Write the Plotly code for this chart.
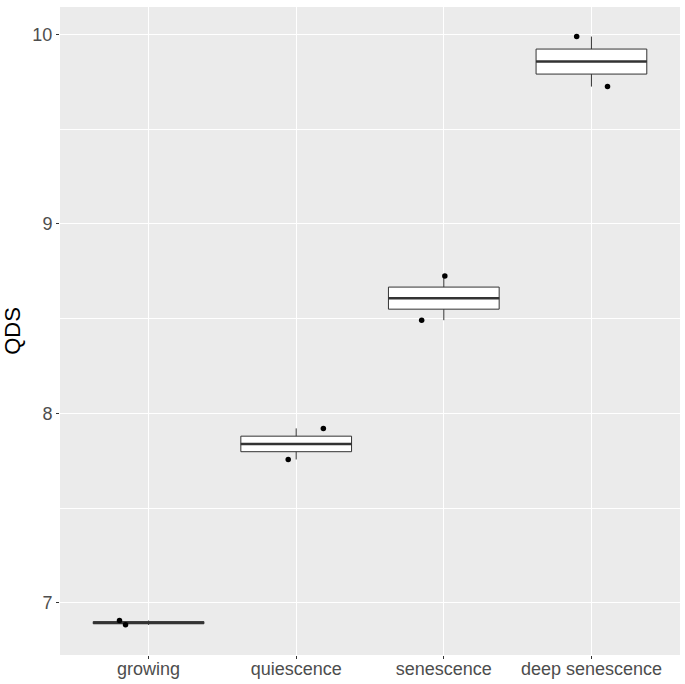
import numpy as np
import plotly.graph_objs as graph_objs

# group labels and the two QDS measurements of each group
categories = ["growing", "quiescence", "senescence", "deep senescence"]
qds_values = [
    [6.907, 6.884],
    [7.921, 7.757],
    [8.725, 8.492],
    [9.989, 9.725],
]
# horizontal jitter of each point (in category units)
jitter_x = [
    [-0.197, -0.156],
    [0.184, -0.054],
    [0.007, -0.150],
    [-0.100, 0.109],
]
y_ticks = [7, 8, 9, 10]
y_minor = [6.5, 7.5, 8.5, 9.5]

fig = graph_objs.Figure()

box_width = 0.75
for i, name in enumerate(categories):
    pos = i + 1
    vals = np.array(qds_values[i])
    q1, med, q3 = np.percentile(vals, [25, 50, 75])
    fig.add_trace(graph_objs.Box(
        x=[pos], q1=[q1], median=[med], q3=[q3],
        lowerfence=[vals.min()], upperfence=[vals.max()],
        width=box_width, whiskerwidth=0,
        fillcolor="white",
        line=dict(color="#333333", width=1),
        boxpoints=False, showlegend=False, hoverinfo="skip",
    ))
    # thicker median line like ggplot
    fig.add_trace(graph_objs.Scatter(
        x=[pos - box_width / 2, pos + box_width / 2], y=[med, med],
        mode="lines", line=dict(color="#333333", width=2.5),
        showlegend=False, hoverinfo="skip",
    ))

for i, name in enumerate(categories):
    pos = i + 1
    fig.add_trace(graph_objs.Scatter(
        x=[pos + j for j in jitter_x[i]], y=qds_values[i],
        mode="markers", marker=dict(color="black", size=5.5),
        showlegend=False,
    ))

fig.update_layout(
    width=685, height=684,
    margin=dict(l=60, r=5, t=7, b=27),
    plot_bgcolor="#EBEBEB", paper_bgcolor="white",
    font=dict(family="Liberation Sans, Arial, sans-serif", color="#4D4D4D"),
    showlegend=False,
)
fig.update_xaxes(
    range=[0.4, 4.6], tickvals=[1, 2, 3, 4], ticktext=categories,
    showgrid=True, gridcolor="white", gridwidth=1.4, zeroline=False,
    ticks="outside", ticklen=3, tickcolor="#333333",
    tickfont=dict(size=18, color="#4D4D4D"), ticklabelstandoff=-6,
)
fig.update_yaxes(
    range=[6.725, 10.145], tickvals=y_ticks,
    showgrid=True, gridcolor="white", gridwidth=1.4, zeroline=False,
    ticks="outside", ticklen=3, tickcolor="#333333",
    tickfont=dict(size=18, color="#4D4D4D"),
    minor=dict(tickvals=y_minor, showgrid=True, gridcolor="white", gridwidth=0.7, ticks=""),
    title=dict(text="QDS", font=dict(size=22, color="black"), standoff=10),
)

fig.write_html("out.html", config={"displayModeBar": False},
               post_script="document.body.style.margin='0';")
